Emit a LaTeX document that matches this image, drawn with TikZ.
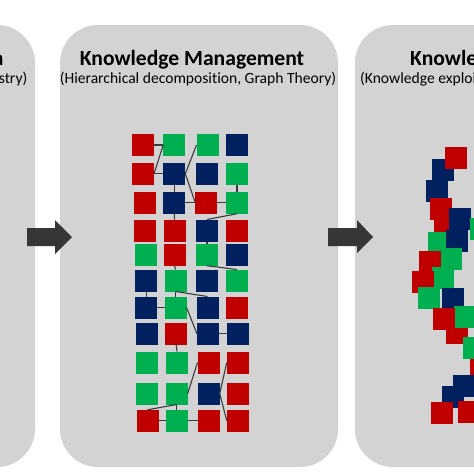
\documentclass[tikz,border=0pt]{standalone}
\usepackage{fontspec}
\setmainfont{Carlito}[Ligatures=NoCommon]
\definecolor{cR}{HTML}{C00000}
\definecolor{cG}{HTML}{00B050}
\definecolor{cN}{HTML}{002060}
\definecolor{panelc}{HTML}{D3D3D3}
\definecolor{arrowc}{HTML}{363636}
\definecolor{linkc}{HTML}{3A3A3A}
\tikzset{
  sq/.style={minimum size=22pt, inner sep=0pt, outer sep=0pt},
  sqR/.style={sq, fill=cR},
  sqG/.style={sq, fill=cG},
  sqN/.style={sq, fill=cN},
  panel/.style={fill=panelc, rounded corners=38pt},
  blockarrow/.style={fill=arrowc},
  link/.style={draw=linkc, line width=1.1pt},
  ttl/.style={font=\fontsize{21.6}{25}\selectfont\bfseries, inner sep=0pt},
  sub/.style={font=\fontsize{15.6}{18}\selectfont, inner sep=0pt},
}
\begin{document}
\begin{tikzpicture}[x=1pt, y=-1pt]
\useasboundingbox (0,0) rectangle (474,474);
\clip (0,0) rectangle (474,474);
% panels
\fill[panel] (-243,25) rectangle (35,467);
\fill[panel] (60,25) rectangle (338,467);
\fill[panel] (355,25) rectangle (633,467);
% texts
\node[ttl, anchor=base east] (t1) at (3.5,65.7) {Knowledge Acquisition};
\node[sub, anchor=base east] (s1) at (27.5,83.3) {(Literature, Industry)};
\node[ttl, anchor=base] (t2) at (192,65.7) {Knowledge Management};
\node[sub, anchor=base] (s2) at (198,83.3) {(Hierarchical decomposition, Graph Theory)};
\node[ttl, anchor=base west] (t3) at (410,65.7) {Knowledge Exploitation};
\node[sub, anchor=base west] (s3) at (360,83.3) {(Knowledge exploitation)};
% block arrows
\fill[blockarrow] (27,228) -- (55,228) -- (55,220) -- (72,237) -- (55,254) -- (55,246) -- (27,246) -- cycle;
\fill[blockarrow] (328,228) -- (357,228) -- (357,220) -- (373,237) -- (357,253) -- (357,246) -- (328,246) -- cycle;
% grid
\node[sqR] (r1c1) at (143.3,145) {};
\node[sqG] (r1c2) at (174.2,145) {};
\node[sqG] (r1c3) at (207.5,145) {};
\node[sqN] (r1c4) at (237.2,145) {};
\node[sqR] (r2c1) at (143,173.8) {};
\node[sqN] (r2c2) at (174.3,173.8) {};
\node[sqN] (r2c3) at (207,173.8) {};
\node[sqG] (r2c4) at (237,173.8) {};
\node[sqR] (r3c1) at (144.5,202.7) {};
\node[sqN] (r3c2) at (174.3,202.7) {};
\node[sqR] (r3c3) at (206.3,202.7) {};
\node[sqG] (r3c4) at (237,202.7) {};
\node[sqR] (r4c1) at (144.5,230.5) {};
\node[sqR] (r4c2) at (174.5,230.5) {};
\node[sqN] (r4c3) at (207,230.5) {};
\node[sqR] (r4c4) at (237.2,230.5) {};
\node[sqG] (r5c1) at (145.5,254.7) {};
\node[sqR] (r5c2) at (174.5,254.7) {};
\node[sqG] (r5c3) at (207,254.7) {};
\node[sqN] (r5c4) at (237,254.7) {};
\node[sqN] (r6c1) at (146.2,280.5) {};
\node[sqG] (r6c2) at (175.5,280.5) {};
\node[sqN] (r6c3) at (207,280.5) {};
\node[sqG] (r6c4) at (237,280.5) {};
\node[sqN] (r7c1) at (146.2,307.5) {};
\node[sqG] (r7c2) at (175.5,307.5) {};
\node[sqN] (r7c3) at (207.5,307.5) {};
\node[sqR] (r7c4) at (237,307.5) {};
\node[sqN] (r8c1) at (147,333.8) {};
\node[sqR] (r8c2) at (176.2,333.8) {};
\node[sqN] (r8c3) at (208,333.8) {};
\node[sqN] (r8c4) at (237.8,333.8) {};
\node[sqG] (r9c1) at (147,362.5) {};
\node[sqG] (r9c2) at (177,362.5) {};
\node[sqR] (r9c3) at (208.5,362.5) {};
\node[sqR] (r9c4) at (237.8,362.5) {};
\node[sqG] (r10c1) at (147,393.5) {};
\node[sqG] (r10c2) at (176.7,393.5) {};
\node[sqN] (r10c3) at (208.7,393.5) {};
\node[sqR] (r10c4) at (237.8,393.5) {};
\node[sqR] (r11c1) at (147.5,420.8) {};
\node[sqG] (r11c2) at (176.7,420.8) {};
\node[sqR] (r11c3) at (208.7,420.8) {};
\node[sqR] (r11c4) at (237.8,420.8) {};
% links
\draw[link] (r1c1.east) -- (r1c2.west);
\draw[link] (r1c2.west) -- (r2c1.east);
\draw[link] (r2c1.east) -- (r2c2.west);
\draw[link] (r1c3.west) -- (r2c2.east);
\draw[link] (r2c2.east) -- (r3c3.west);
\draw[link] (r2c2.south) -- (r3c2.north);
\draw[link] (r3c2.east) -- (r3c3.west);
\draw[link] (r3c3.east) -- (r3c4.west);
\draw[link] (r2c4.south) -- (r3c4.north);
\draw[link] (r3c4.south) -- (r4c3.north);
\draw[link] (r3c2.south) -- (r4c2.north);
\draw[link] (r4c3.south) -- (r5c3.north);
\draw[link] (r5c3.south) -- (r6c4.north);
\draw[link] (r5c2.south) -- (r6c2.north);
\draw[link] (r6c1.south) -- (r7c1.north);
\draw[link] (r6c2.south) -- (r7c3.north);
\draw[link] (r6c2.south) -- (r7c2.north);
\draw[link] (r7c1.east) -- (r7c2.west);
\draw[link] (r7c2.east) -- (r8c3.west);
\draw[link] (r8c3.east) -- (r8c4.west);
\draw[link] (r8c2.south) -- (r9c2.north);
\draw[link] (r9c3.west) -- (r10c2.east);
\draw[link] (r9c4.west) -- (r10c3.east);
\draw[link] (r10c3.east) -- (r11c4.west);
\draw[link] (r10c2.south) -- (r11c1.north);
\draw[link] (r10c2.south) -- (r11c2.north);
\draw[link] (r11c1.east) -- (r11c2.west);
\draw[link] (r11c2.east) -- (r11c3.west);
% scattered squares (right panel)
\node[sqN] (p1) at (443,170) {};
\node[sqR] (p2) at (455.5,158) {};
\node[sqN] (p3) at (437,191) {};
\node[sqR] (p4) at (441,209) {};
\node[sqR] (p5) at (445,221) {};
\node[sqN] (p6) at (460,218.5) {};
\node[sqG] (p7) at (481,229) {};
\node[sqG] (p8) at (439,242.5) {};
\node[sqN] (p9) at (457,241) {};
\node[sqG] (p10) at (451,259) {};
\node[sqR] (p11) at (430,261.5) {};
\node[sqG] (p12) at (442.5,278) {};
\node[sqR] (p13) at (422.5,282) {};
\node[sqG] (p14) at (429,297.5) {};
\node[sqN] (p15) at (452.7,299.3) {};
\node[sqR] (p16) at (457,332.5) {};
\node[sqG] (p17) at (465,317) {};
\node[sqR] (p18) at (443.7,319.3) {};
\node[sqG] (p19) at (474.3,348) {};
\node[sqR] (p20) at (481,370) {};
\node[sqN] (p21) at (464,386) {};
\node[sqN] (p22) at (452.7,397) {};
\node[sqR] (p23) at (442,412.7) {};
\node[sqR] (p24) at (469.3,411.5) {};
\end{tikzpicture}
\end{document}
